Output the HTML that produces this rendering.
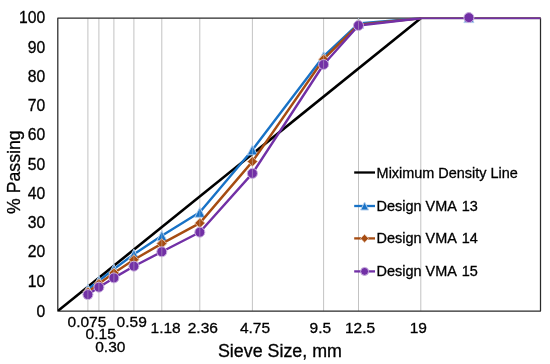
<!DOCTYPE html><html><head><meta charset="utf-8"><style>html,body{margin:0;padding:0;background:#fff}svg{display:block}text{font-family:"Liberation Sans",Arial,sans-serif;fill:#000;stroke:#000;stroke-width:0.3px}</style></head><body>
<svg width="550" height="364" viewBox="0 0 550 364">
<rect width="550" height="364" fill="#fff"/>
<line x1="87.9" y1="18.2" x2="87.9" y2="310.95" stroke="#bcbcbc" stroke-width="0.9"/>
<line x1="98.9" y1="18.2" x2="98.9" y2="310.95" stroke="#bcbcbc" stroke-width="0.9"/>
<line x1="113.9" y1="18.2" x2="113.9" y2="310.95" stroke="#bcbcbc" stroke-width="0.9"/>
<line x1="133.9" y1="18.2" x2="133.9" y2="310.95" stroke="#bcbcbc" stroke-width="0.9"/>
<line x1="161.8" y1="18.2" x2="161.8" y2="310.95" stroke="#bcbcbc" stroke-width="0.9"/>
<line x1="199.8" y1="18.2" x2="199.8" y2="310.95" stroke="#bcbcbc" stroke-width="0.9"/>
<line x1="252.4" y1="18.2" x2="252.4" y2="310.95" stroke="#bcbcbc" stroke-width="0.9"/>
<line x1="323.6" y1="18.2" x2="323.6" y2="310.95" stroke="#bcbcbc" stroke-width="0.9"/>
<line x1="358.5" y1="18.2" x2="358.5" y2="310.95" stroke="#bcbcbc" stroke-width="0.9"/>
<line x1="420.8" y1="18.2" x2="420.8" y2="310.95" stroke="#bcbcbc" stroke-width="0.9"/>
<rect x="57.8" y="18.2" width="482.7" height="292.8" fill="none" stroke="#2a2a2a" stroke-width="1.25" stroke-linejoin="round"/>
<clipPath id="pc"><rect x="57.8" y="17.5" width="482.7" height="293.4"/></clipPath>
<polyline clip-path="url(#pc)" points="57.8,310.95 420.8,18.2" fill="none" stroke="#000" stroke-width="2.6" stroke-linejoin="round"/>
<rect x="420.3" y="17.5" width="120.1" height="1.6" fill="#1872c6"/>
<polyline clip-path="url(#pc)" points="87.9,289.3 98.9,280.8 113.9,269.1 133.9,254.2 161.8,235.7 199.8,212.3 252.4,149.9 323.6,56.3 358.5,23.5 420.8,18.2" fill="none" stroke="#1872c6" stroke-width="2.4" stroke-linejoin="round"/>
<polygon points="87.9,284.3 92.9,294.3 82.9,294.3" fill="#1872c6" stroke="#b3cfee" stroke-width="1"/>
<line x1="87.9" y1="285.0" x2="87.9" y2="293.6" stroke="#d4d4d4" stroke-width="0.9" opacity="0.42"/>
<polygon points="98.9,275.8 103.9,285.8 93.9,285.8" fill="#1872c6" stroke="#b3cfee" stroke-width="1"/>
<line x1="98.9" y1="276.5" x2="98.9" y2="285.1" stroke="#d4d4d4" stroke-width="0.9" opacity="0.42"/>
<polygon points="113.9,264.1 118.9,274.1 108.9,274.1" fill="#1872c6" stroke="#b3cfee" stroke-width="1"/>
<line x1="113.9" y1="264.8" x2="113.9" y2="273.4" stroke="#d4d4d4" stroke-width="0.9" opacity="0.42"/>
<polygon points="133.9,249.2 138.9,259.2 128.9,259.2" fill="#1872c6" stroke="#b3cfee" stroke-width="1"/>
<line x1="133.9" y1="249.9" x2="133.9" y2="258.5" stroke="#d4d4d4" stroke-width="0.9" opacity="0.42"/>
<polygon points="161.8,230.7 166.8,240.7 156.8,240.7" fill="#1872c6" stroke="#b3cfee" stroke-width="1"/>
<line x1="161.8" y1="231.4" x2="161.8" y2="240.0" stroke="#d4d4d4" stroke-width="0.9" opacity="0.42"/>
<polygon points="199.8,207.3 204.8,217.3 194.8,217.3" fill="#1872c6" stroke="#b3cfee" stroke-width="1"/>
<line x1="199.8" y1="208.0" x2="199.8" y2="216.6" stroke="#d4d4d4" stroke-width="0.9" opacity="0.42"/>
<polygon points="252.4,144.9 257.4,154.9 247.4,154.9" fill="#1872c6" stroke="#b3cfee" stroke-width="1"/>
<line x1="252.4" y1="145.6" x2="252.4" y2="154.2" stroke="#d4d4d4" stroke-width="0.9" opacity="0.42"/>
<polygon points="323.6,51.3 328.6,61.3 318.6,61.3" fill="#1872c6" stroke="#b3cfee" stroke-width="1"/>
<line x1="323.6" y1="52.0" x2="323.6" y2="60.6" stroke="#d4d4d4" stroke-width="0.9" opacity="0.42"/>
<polygon points="358.5,18.5 363.5,28.5 353.5,28.5" fill="#1872c6" stroke="#b3cfee" stroke-width="1"/>
<line x1="358.5" y1="19.2" x2="358.5" y2="27.8" stroke="#d4d4d4" stroke-width="0.9" opacity="0.42"/>
<polygon points="468.9,12.6 473.9,22.6 463.9,22.6" fill="#1872c6" stroke="#b3cfee" stroke-width="1"/>
<rect x="420.3" y="17.5" width="120.1" height="1.6" fill="#a64c12"/>
<polyline clip-path="url(#pc)" points="87.9,291.9 98.9,283.7 113.9,272.9 133.9,259.7 161.8,243.6 199.8,223.1 252.4,161.6 323.6,59.2 358.5,24.6 420.8,18.2" fill="none" stroke="#a64c12" stroke-width="2.4" stroke-linejoin="round"/>
<polygon points="87.9,286.9 92.9,291.9 87.9,296.9 82.9,291.9" fill="#a64c12" stroke="#e0bda6" stroke-width="1"/>
<line x1="87.9" y1="287.6" x2="87.9" y2="296.2" stroke="#d4d4d4" stroke-width="0.9" opacity="0.42"/>
<polygon points="98.9,278.7 103.9,283.7 98.9,288.7 93.9,283.7" fill="#a64c12" stroke="#e0bda6" stroke-width="1"/>
<line x1="98.9" y1="279.4" x2="98.9" y2="288.0" stroke="#d4d4d4" stroke-width="0.9" opacity="0.42"/>
<polygon points="113.9,267.9 118.9,272.9 113.9,277.9 108.9,272.9" fill="#a64c12" stroke="#e0bda6" stroke-width="1"/>
<line x1="113.9" y1="268.6" x2="113.9" y2="277.2" stroke="#d4d4d4" stroke-width="0.9" opacity="0.42"/>
<polygon points="133.9,254.7 138.9,259.7 133.9,264.7 128.9,259.7" fill="#a64c12" stroke="#e0bda6" stroke-width="1"/>
<line x1="133.9" y1="255.4" x2="133.9" y2="264.0" stroke="#d4d4d4" stroke-width="0.9" opacity="0.42"/>
<polygon points="161.8,238.6 166.8,243.6 161.8,248.6 156.8,243.6" fill="#a64c12" stroke="#e0bda6" stroke-width="1"/>
<line x1="161.8" y1="239.3" x2="161.8" y2="247.9" stroke="#d4d4d4" stroke-width="0.9" opacity="0.42"/>
<polygon points="199.8,218.1 204.8,223.1 199.8,228.1 194.8,223.1" fill="#a64c12" stroke="#e0bda6" stroke-width="1"/>
<line x1="199.8" y1="218.8" x2="199.8" y2="227.4" stroke="#d4d4d4" stroke-width="0.9" opacity="0.42"/>
<polygon points="252.4,156.6 257.4,161.6 252.4,166.6 247.4,161.6" fill="#a64c12" stroke="#e0bda6" stroke-width="1"/>
<line x1="252.4" y1="157.3" x2="252.4" y2="165.9" stroke="#d4d4d4" stroke-width="0.9" opacity="0.42"/>
<polygon points="323.6,54.2 328.6,59.2 323.6,64.2 318.6,59.2" fill="#a64c12" stroke="#e0bda6" stroke-width="1"/>
<line x1="323.6" y1="54.9" x2="323.6" y2="63.5" stroke="#d4d4d4" stroke-width="0.9" opacity="0.42"/>
<polygon points="358.5,19.6 363.5,24.6 358.5,29.6 353.5,24.6" fill="#a64c12" stroke="#e0bda6" stroke-width="1"/>
<line x1="358.5" y1="20.3" x2="358.5" y2="28.9" stroke="#d4d4d4" stroke-width="0.9" opacity="0.42"/>
<polygon points="468.9,12.6 473.9,17.6 468.9,22.6 463.9,17.6" fill="#a64c12" stroke="#e0bda6" stroke-width="1"/>
<rect x="420.3" y="17.5" width="120.1" height="1.6" fill="#7230a6"/>
<polyline clip-path="url(#pc)" points="87.9,294.6 98.9,287.2 113.9,277.9 133.9,266.2 161.8,251.8 199.8,232.2 252.4,173.4 323.6,64.5 358.5,25.5 420.8,18.2" fill="none" stroke="#7230a6" stroke-width="2.4" stroke-linejoin="round"/>
<circle cx="87.9" cy="294.6" r="5.0" fill="#7230a6" stroke="#cbb3e0" stroke-width="1"/>
<line x1="87.9" y1="290.3" x2="87.9" y2="298.9" stroke="#d4d4d4" stroke-width="0.9" opacity="0.42"/>
<circle cx="98.9" cy="287.2" r="5.0" fill="#7230a6" stroke="#cbb3e0" stroke-width="1"/>
<line x1="98.9" y1="282.9" x2="98.9" y2="291.5" stroke="#d4d4d4" stroke-width="0.9" opacity="0.42"/>
<circle cx="113.9" cy="277.9" r="5.0" fill="#7230a6" stroke="#cbb3e0" stroke-width="1"/>
<line x1="113.9" y1="273.6" x2="113.9" y2="282.2" stroke="#d4d4d4" stroke-width="0.9" opacity="0.42"/>
<circle cx="133.9" cy="266.2" r="5.0" fill="#7230a6" stroke="#cbb3e0" stroke-width="1"/>
<line x1="133.9" y1="261.9" x2="133.9" y2="270.5" stroke="#d4d4d4" stroke-width="0.9" opacity="0.42"/>
<circle cx="161.8" cy="251.8" r="5.0" fill="#7230a6" stroke="#cbb3e0" stroke-width="1"/>
<line x1="161.8" y1="247.5" x2="161.8" y2="256.1" stroke="#d4d4d4" stroke-width="0.9" opacity="0.42"/>
<circle cx="199.8" cy="232.2" r="5.0" fill="#7230a6" stroke="#cbb3e0" stroke-width="1"/>
<line x1="199.8" y1="227.9" x2="199.8" y2="236.5" stroke="#d4d4d4" stroke-width="0.9" opacity="0.42"/>
<circle cx="252.4" cy="173.4" r="5.0" fill="#7230a6" stroke="#cbb3e0" stroke-width="1"/>
<line x1="252.4" y1="169.1" x2="252.4" y2="177.7" stroke="#d4d4d4" stroke-width="0.9" opacity="0.42"/>
<circle cx="323.6" cy="64.5" r="5.0" fill="#7230a6" stroke="#cbb3e0" stroke-width="1"/>
<line x1="323.6" y1="60.2" x2="323.6" y2="68.8" stroke="#d4d4d4" stroke-width="0.9" opacity="0.42"/>
<circle cx="358.5" cy="25.5" r="5.0" fill="#7230a6" stroke="#cbb3e0" stroke-width="1"/>
<line x1="358.5" y1="21.2" x2="358.5" y2="29.8" stroke="#d4d4d4" stroke-width="0.9" opacity="0.42"/>
<circle cx="468.9" cy="17.6" r="5.0" fill="#7230a6" stroke="#cbb3e0" stroke-width="1"/>
<text transform="translate(45.3,316.6) scale(1,1)" font-size="15.7" text-anchor="end">0</text>
<text transform="translate(45.3,286.7) scale(1,1)" font-size="15.7" text-anchor="end">10</text>
<text transform="translate(45.3,257.4) scale(1,1)" font-size="15.7" text-anchor="end">20</text>
<text transform="translate(45.3,228.1) scale(1,1)" font-size="15.7" text-anchor="end">30</text>
<text transform="translate(45.3,198.8) scale(1,1)" font-size="15.7" text-anchor="end">40</text>
<text transform="translate(45.3,169.6) scale(1,1)" font-size="15.7" text-anchor="end">50</text>
<text transform="translate(45.3,140.3) scale(1,1)" font-size="15.7" text-anchor="end">60</text>
<text transform="translate(45.3,111.0) scale(1,1)" font-size="15.7" text-anchor="end">70</text>
<text transform="translate(45.3,81.7) scale(1,1)" font-size="15.7" text-anchor="end">80</text>
<text transform="translate(45.3,52.5) scale(1,1)" font-size="15.7" text-anchor="end">90</text>
<text transform="translate(45.3,23.2) scale(1,1)" font-size="15.7" text-anchor="end">100</text>
<text transform="translate(86.9,326.5) scale(1,1)" font-size="15.5" text-anchor="middle">0.075</text>
<text transform="translate(100.7,338.5) scale(1,1)" font-size="15.5" text-anchor="middle">0.15</text>
<text transform="translate(110.3,351.6) scale(1,1)" font-size="15.5" text-anchor="middle">0.30</text>
<text transform="translate(131.7,326.5) scale(1,1)" font-size="15.5" text-anchor="middle">0.59</text>
<text transform="translate(165.6,332.7) scale(1,1)" font-size="15.5" text-anchor="middle">1.18</text>
<text transform="translate(202.8,332.7) scale(1,1)" font-size="15.5" text-anchor="middle">2.36</text>
<text transform="translate(255,332.7) scale(1,1)" font-size="15.5" text-anchor="middle">4.75</text>
<text transform="translate(320.3,332.7) scale(1,1)" font-size="15.5" text-anchor="middle">9.5</text>
<text transform="translate(360,332.7) scale(1,1)" font-size="15.5" text-anchor="middle">12.5</text>
<text transform="translate(418.3,332.7) scale(1,1)" font-size="15.5" text-anchor="middle">19</text>
<text transform="translate(279.9,356.8) scale(1,1)" font-size="17.85" text-anchor="middle">Sieve Size, mm</text>
<text transform="translate(20.0,172.2) rotate(-90) scale(1,1)" font-size="17.7" text-anchor="middle">% Passing</text>
<line x1="354.2" y1="172.5" x2="375" y2="172.5" stroke="#000" stroke-width="2.3"/>
<text transform="translate(376.6,177.5) scale(1,1)" font-size="14.45">Miximum Density Line</text>
<line x1="354.2" y1="206" x2="375" y2="206" stroke="#1872c6" stroke-width="2.3"/>
<polygon points="364.6,202.0 368.6,210.0 360.6,210.0" fill="#1872c6" stroke="#b3cfee" stroke-width="1"/>
<text transform="translate(376.6,211.0) scale(1,1)" font-size="14.45">Design VMA <tspan dx="1.6">13</tspan></text>
<line x1="354.2" y1="238.4" x2="375" y2="238.4" stroke="#a64c12" stroke-width="2.3"/>
<polygon points="364.6,234.4 368.6,238.4 364.6,242.4 360.6,238.4" fill="#a64c12" stroke="#e0bda6" stroke-width="1"/>
<text transform="translate(376.6,243.4) scale(1,1)" font-size="14.45">Design VMA <tspan dx="1.6">14</tspan></text>
<line x1="354.2" y1="271.4" x2="375" y2="271.4" stroke="#7230a6" stroke-width="2.3"/>
<circle cx="364.6" cy="271.4" r="4.0" fill="#7230a6" stroke="#cbb3e0" stroke-width="1"/>
<text transform="translate(376.6,276.4) scale(1,1)" font-size="14.45">Design VMA <tspan dx="1.6">15</tspan></text>
</svg></body></html>
